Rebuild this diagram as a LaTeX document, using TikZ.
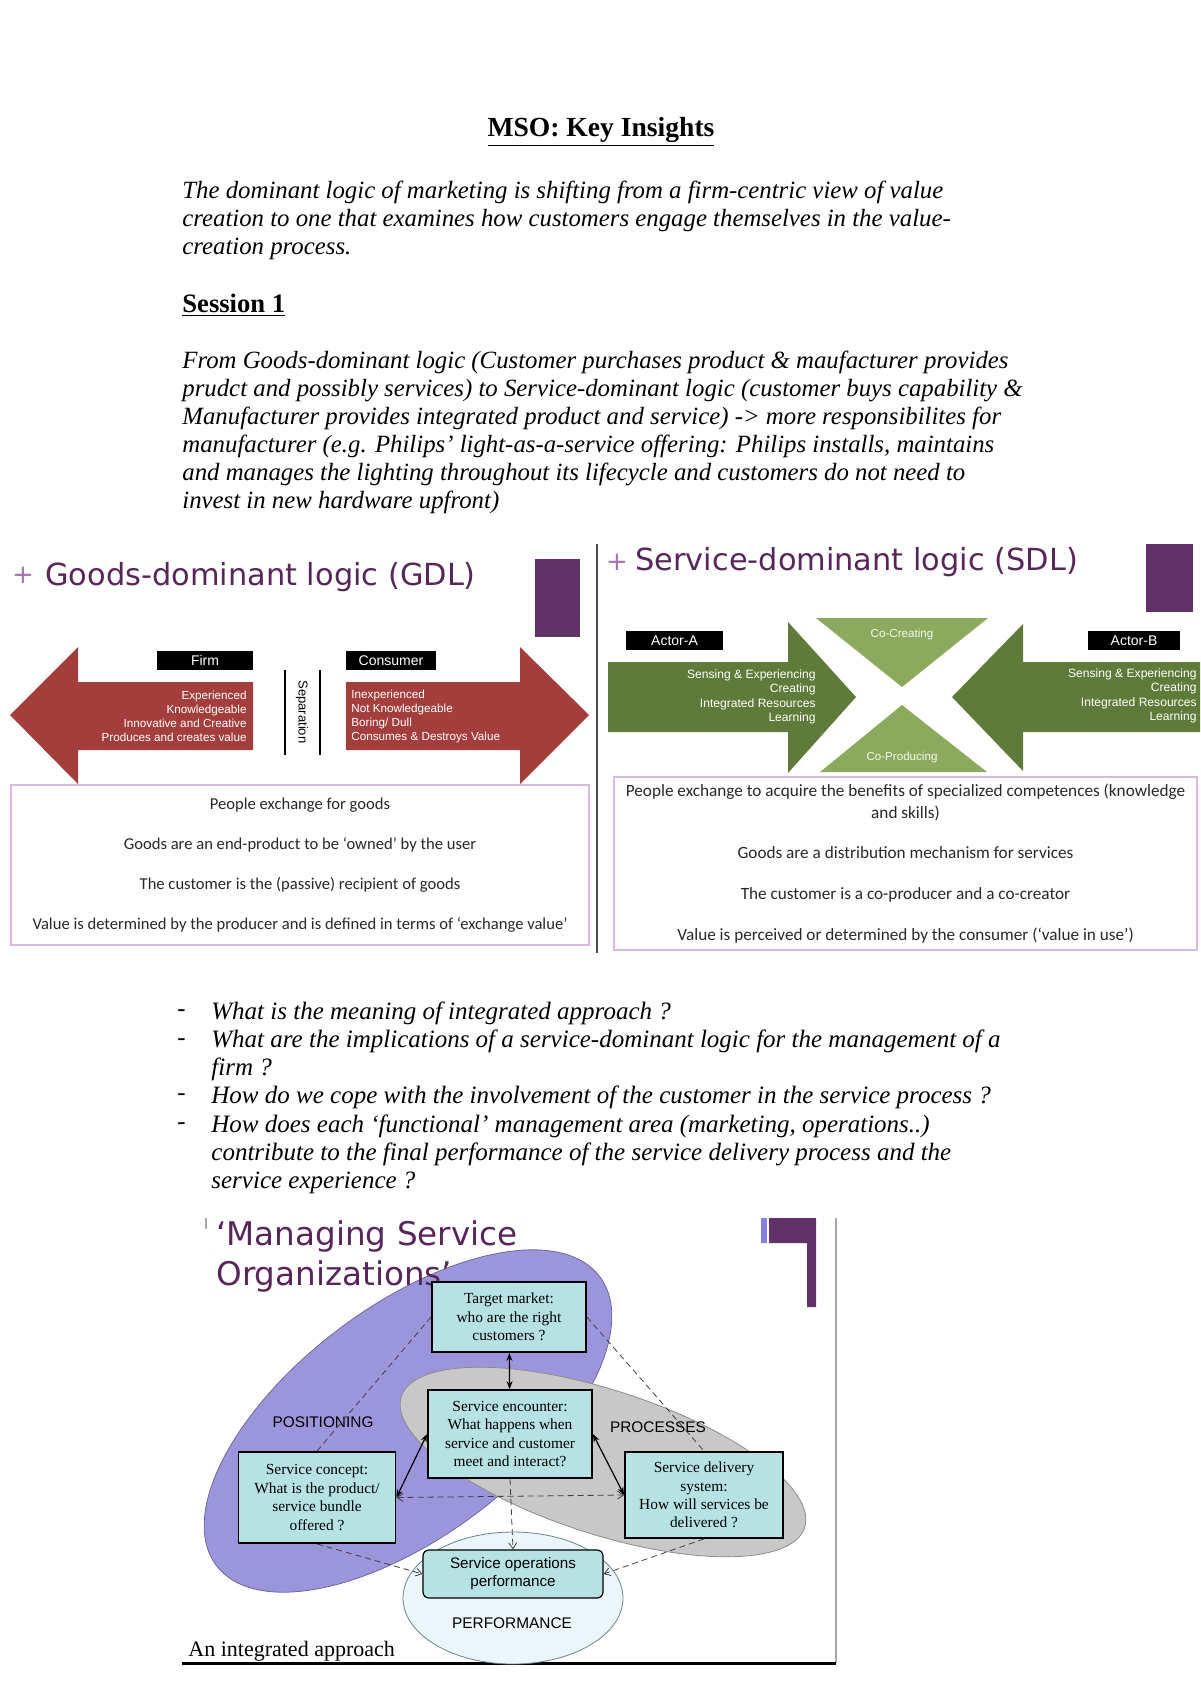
\documentclass[tikz,border=0pt]{standalone}
\usepackage{fontspec}
\setmainfont{Liberation Serif}
\newfontfamily\slidefont{DejaVu Sans}
\newfontfamily\calfont{Carlito}
\newfontfamily\arialfont{Liberation Sans}
\usetikzlibrary{arrows.meta,positioning,shapes.geometric,calc}

\definecolor{titlepurple}{RGB}{88,38,90}
\definecolor{pluspurple}{RGB}{165,115,175}
\definecolor{barpurple}{RGB}{96,50,104}
\definecolor{boxpurple}{RGB}{215,185,225}
\definecolor{gdlred}{RGB}{163,62,60}
\definecolor{sdlgreen}{RGB}{95,123,57}
\definecolor{sdllight}{RGB}{140,170,93}
\definecolor{darktext}{RGB}{40,40,40}
\definecolor{posfill}{RGB}{155,150,220}
\definecolor{procfill}{RGB}{200,200,200}
\definecolor{perffill}{RGB}{236,246,248}
\definecolor{boxcyan}{RGB}{182,226,228}

\begin{document}
\begin{tikzpicture}[x=0.5pt, y=-0.5pt,
doctext/.style={anchor=west, align=left, inner sep=0pt, font=\fontsize{12.4}{14}\selectfont\itshape},
slidetitle/.style={anchor=west, inner sep=0pt, text=titlepurple, font=\slidefont\fontsize{15.2}{17.5}\selectfont},
plus/.style={inner sep=0pt, text=pluspurple, font=\slidefont\fontsize{13}{13}\selectfont},
tag/.style={fill=black, text=white, inner sep=0pt, minimum height=9.5pt, font=\arialfont\fontsize{7}{8}\selectfont},
arrowtext/.style={inner sep=0pt, text=white, font=\arialfont\fontsize{5.85}{7}\selectfont},
summary/.style={draw=boxpurple, line width=0.8pt, align=center, inner sep=0pt, text=darktext},
msobox/.style={draw, line width=0.9pt, fill=boxcyan, align=center, inner sep=0pt, font=\fontsize{7.7}{9.2}\selectfont},
zone/.style={ellipse, inner sep=0pt},
zonelabel/.style={inner sep=0pt, font=\arialfont\fontsize{7.7}{8}\selectfont},
link/.style={{Stealth[length=4pt,width=3pt]}-{Stealth[length=4pt,width=3pt]}, line width=0.6pt},
dlink/.style={densely dashed, line width=0.4pt, draw=black!75},
darrow/.style={dlink, -{Straight Barb[length=3pt,width=4pt]}}
]
\useasboundingbox (0,0) rectangle (1200,1698);
\fill[white] (0,0) rectangle (1200,1698);

% page text
\node[inner sep=0pt, font=\fontsize{13.8}{15}\selectfont\bfseries] (title) at (601,132) {\underline{MSO: Key Insights}};
\node[doctext] (intro) at (182,220) {The dominant logic of marketing is shifting from a firm-centric view of value\\
creation to one that examines how customers engage themselves in the value-\\
creation process.};
\node[anchor=west, inner sep=0pt, font=\fontsize{13.3}{14}\selectfont\bfseries] (session) at (182,305) {\underline{Session 1}};
\node[doctext] (shift) at (182,432) {From Goods-dominant logic (Customer purchases product \& maufacturer provides\\
prudct and possibly services) to Service-dominant logic (customer buys capability \&\\
Manufacturer provides integrated product and service) -> more responsibilites for\\
manufacturer (e.g. Philips’ light-as-a-service offering: Philips installs, maintains\\
and manages the lighting throughout its lifecycle and customers do not need to\\
invest in new hardware upfront)};

% GDL slide
\node[plus] (gplus) at (23,575) {+};
\node[slidetitle] (gtitle) at (45,577) {Goods-dominant logic (GDL)};
\fill[barpurple] (535,559) rectangle (580,637);
\fill[gdlred] (253,682) -- (78,682) -- (78,647) -- (10,715) -- (78,784) -- (78,750) -- (253,750) -- cycle;
\fill[gdlred] (346,682) -- (520,682) -- (520,647) -- (589,715) -- (520,784) -- (520,750) -- (346,750) -- cycle;
\node[tag, minimum width=48pt] (firm) at (205,660.5) {Firm};
\node[tag, minimum width=45pt] (consumer) at (391,660.5) {Consumer};
\node[arrowtext, anchor=east, align=right] (firmtext) at (247,716) {Experienced\\Knowledgeable\\Innovative and Creative\\Produces and creates value};
\node[arrowtext, anchor=west, align=left] (consumertext) at (351,716) {Inexperienced\\Not Knowledgeable\\Boring/ Dull\\Consumes \& Destroys Value};
\draw[line width=1.2pt] (285,670) -- (285,755);
\draw[line width=1.2pt] (320,670) -- (320,755);
\node[inner sep=0pt, rotate=-90, font=\arialfont\fontsize{6.5}{7}\selectfont] (separation) at (302,712) {Separation};
\node[summary, minimum width=289pt, minimum height=80pt, font=\calfont\fontsize{8.3}{20}\selectfont] (gdlbox) at (300,865)
{People exchange for goods\\Goods are an end-product to be ‘owned’ by the user\\The customer is the (passive) recipient of goods\\Value is determined by the producer and is defined in terms of ‘exchange value’};

\draw[black!70, line width=0.8pt] (597,544) -- (597,953);

% SDL slide
\node[plus] (splus) at (617,562) {+};
\node[slidetitle] (stitle) at (635,562) {Service-dominant logic (SDL)};
\fill[barpurple] (1146,544) rectangle (1193,612);
\fill[sdlgreen] (608,662) -- (788,662) -- (788,622) -- (856,697) -- (788,773) -- (788,732) -- (608,732) -- cycle;
\fill[sdlgreen] (1200,662) -- (1023,662) -- (1023,624) -- (952,697) -- (1023,771) -- (1023,732) -- (1200,732) -- cycle;
\fill[sdllight] (816,618) -- (988,618) -- (902,687) -- cycle;
\fill[sdllight] (820,772) -- (987,772) -- (902,705) -- cycle;
\node[tag, minimum width=48.5pt] (actora) at (674.5,640.5) {Actor-A};
\node[tag, minimum width=46pt] (actorb) at (1134,640.5) {Actor-B};
\node[arrowtext, anchor=east, align=right, font=\arialfont\fontsize{6.05}{7.2}\selectfont] (atext) at (816,697) {Sensing \& Experiencing\\Creating\\Integrated Resources\\Learning};
\node[arrowtext, anchor=east, align=right, font=\arialfont\fontsize{6.05}{7.2}\selectfont] (btext) at (1197,696) {Sensing \& Experiencing\\Creating\\Integrated Resources\\Learning};
\node[arrowtext, text=white!90!sdllight, font=\arialfont\fontsize{5.8}{7}\selectfont] (cocreate) at (902,634) {Co-Creating};
\node[arrowtext, text=white!90!sdllight, font=\arialfont\fontsize{5.8}{7}\selectfont] (coproduce) at (902,757) {Co-Producing};
\node[summary, minimum width=291.5pt, minimum height=86.5pt, font=\calfont\fontsize{8.6}{10.8}\selectfont] (sdlbox) at (905.5,863.5)
{People exchange to acquire the benefits of specialized competences (knowledge\\and skills)\\[9.5pt]Goods are a distribution mechanism for services\\[9.5pt]The customer is a co-producer and a co-creator\\[9.5pt]Value is perceived or determined by the consumer (‘value in use’)};

% questions
\foreach \y/\n in {1013/1,1042/2,1097/3,1126/4}
  \node[doctext, font=\fontsize{12.4}{14}\selectfont] (dash\n) at (177,\y) {-};
\node[doctext, font=\fontsize{12.5}{14}\selectfont\itshape] (q1) at (211,1013) {What is the meaning of integrated approach ?};
\node[doctext, font=\fontsize{12.5}{14}\selectfont\itshape] (q2) at (211,1055.5) {What are the implications of a service-dominant logic for the management of a\\firm ?};
\node[doctext, font=\fontsize{12.5}{14}\selectfont\itshape] (q3) at (211,1097) {How do we cope with the involvement of the customer in the service process ?};
\node[doctext, font=\fontsize{12.5}{14}\selectfont\itshape] (q4) at (211,1154.5) {How does each ‘functional’ management area (marketing, operations..)\\contribute to the final performance of the service delivery process and the\\service experience ?};

% Managing Service Organizations slide
\draw[black!35, line width=0.6pt] (836,1218) -- (836,1663);
\draw[black!35, line width=0.6pt] (206,1218) -- (206,1229);
\draw[black, line width=1.5pt] (182,1663) -- (836,1663);
\fill[posfill!85!blue] (761,1218) rectangle (767,1243);
\fill[barpurple] (769,1218) -- (816,1218) -- (816,1307) -- (807,1307) -- (807,1243) -- (769,1243) -- cycle;

\node[zone, fill=posfill, draw=posfill!70!black, line width=0.4pt, minimum width=240pt, minimum height=115pt, rotate=37] (posell) at (408,1421) {};
\node[zone, fill=procfill, draw=procfill!70!black, line width=0.4pt, minimum width=212pt, minimum height=72pt, rotate=-18] (procell) at (603,1462) {};
\node[zone, fill=perffill, draw=black!45!cyan!60!gray, line width=0.4pt, minimum width=110pt, minimum height=66pt] (perfell) at (513,1598) {};

\node[slidetitle, align=left, font=\slidefont\fontsize{16.3}{20}\selectfont] (mtitle) at (216,1256) {‘Managing Service\\Organizations’};

\node[zonelabel] (positioning) at (323,1422) {POSITIONING};
\node[zonelabel] (processes) at (658,1427) {PROCESSES};
\node[zonelabel] (performance) at (512,1623) {PERFORMANCE};

\node[msobox, minimum width=77pt, minimum height=35pt] (target) at (509,1317) {Target market:\\who are the right\\customers ?};
\node[msobox, minimum width=82pt, minimum height=44pt] (encounter) at (510,1434) {Service encounter:\\What happens when\\service and customer\\meet and interact?};
\node[msobox, minimum width=78.5pt, minimum height=45.5pt] (concept) at (317,1497.5) {Service concept:\\What is the product/\\service bundle\\offered ?};
\node[msobox, minimum width=79pt, minimum height=43pt] (delivery) at (704,1495) {Service delivery\\system:\\How will services be\\delivered ?};
\node[msobox, rounded corners=3pt, line width=0.6pt, minimum width=90pt, minimum height=24pt, font=\arialfont\fontsize{7.6}{9}\selectfont] (perf) at (513,1574) {Service operations\\performance};

\draw[dlink] (target.west) -- (concept.north);
\draw[dlink] (target.east) -- (delivery.north);
\draw[dlink, {Straight Barb[length=3pt,width=4pt]}-{Straight Barb[length=3pt,width=4pt]}] (concept.east) -- (delivery.west);
\draw[link] (target) -- (encounter);
\draw[link] (encounter.west) -- (concept.east);
\draw[link] (encounter.east) -- (delivery.west);
\draw[darrow] (encounter.south) -- (perf.north);
\draw[darrow] (concept.south) -- (perf.west);
\draw[darrow] (delivery.south) -- (perf.east);

\node[anchor=west, inner sep=0pt, font=\fontsize{11}{12}\selectfont] (caption) at (188,1651) {An integrated approach};
\end{tikzpicture}
\end{document}
